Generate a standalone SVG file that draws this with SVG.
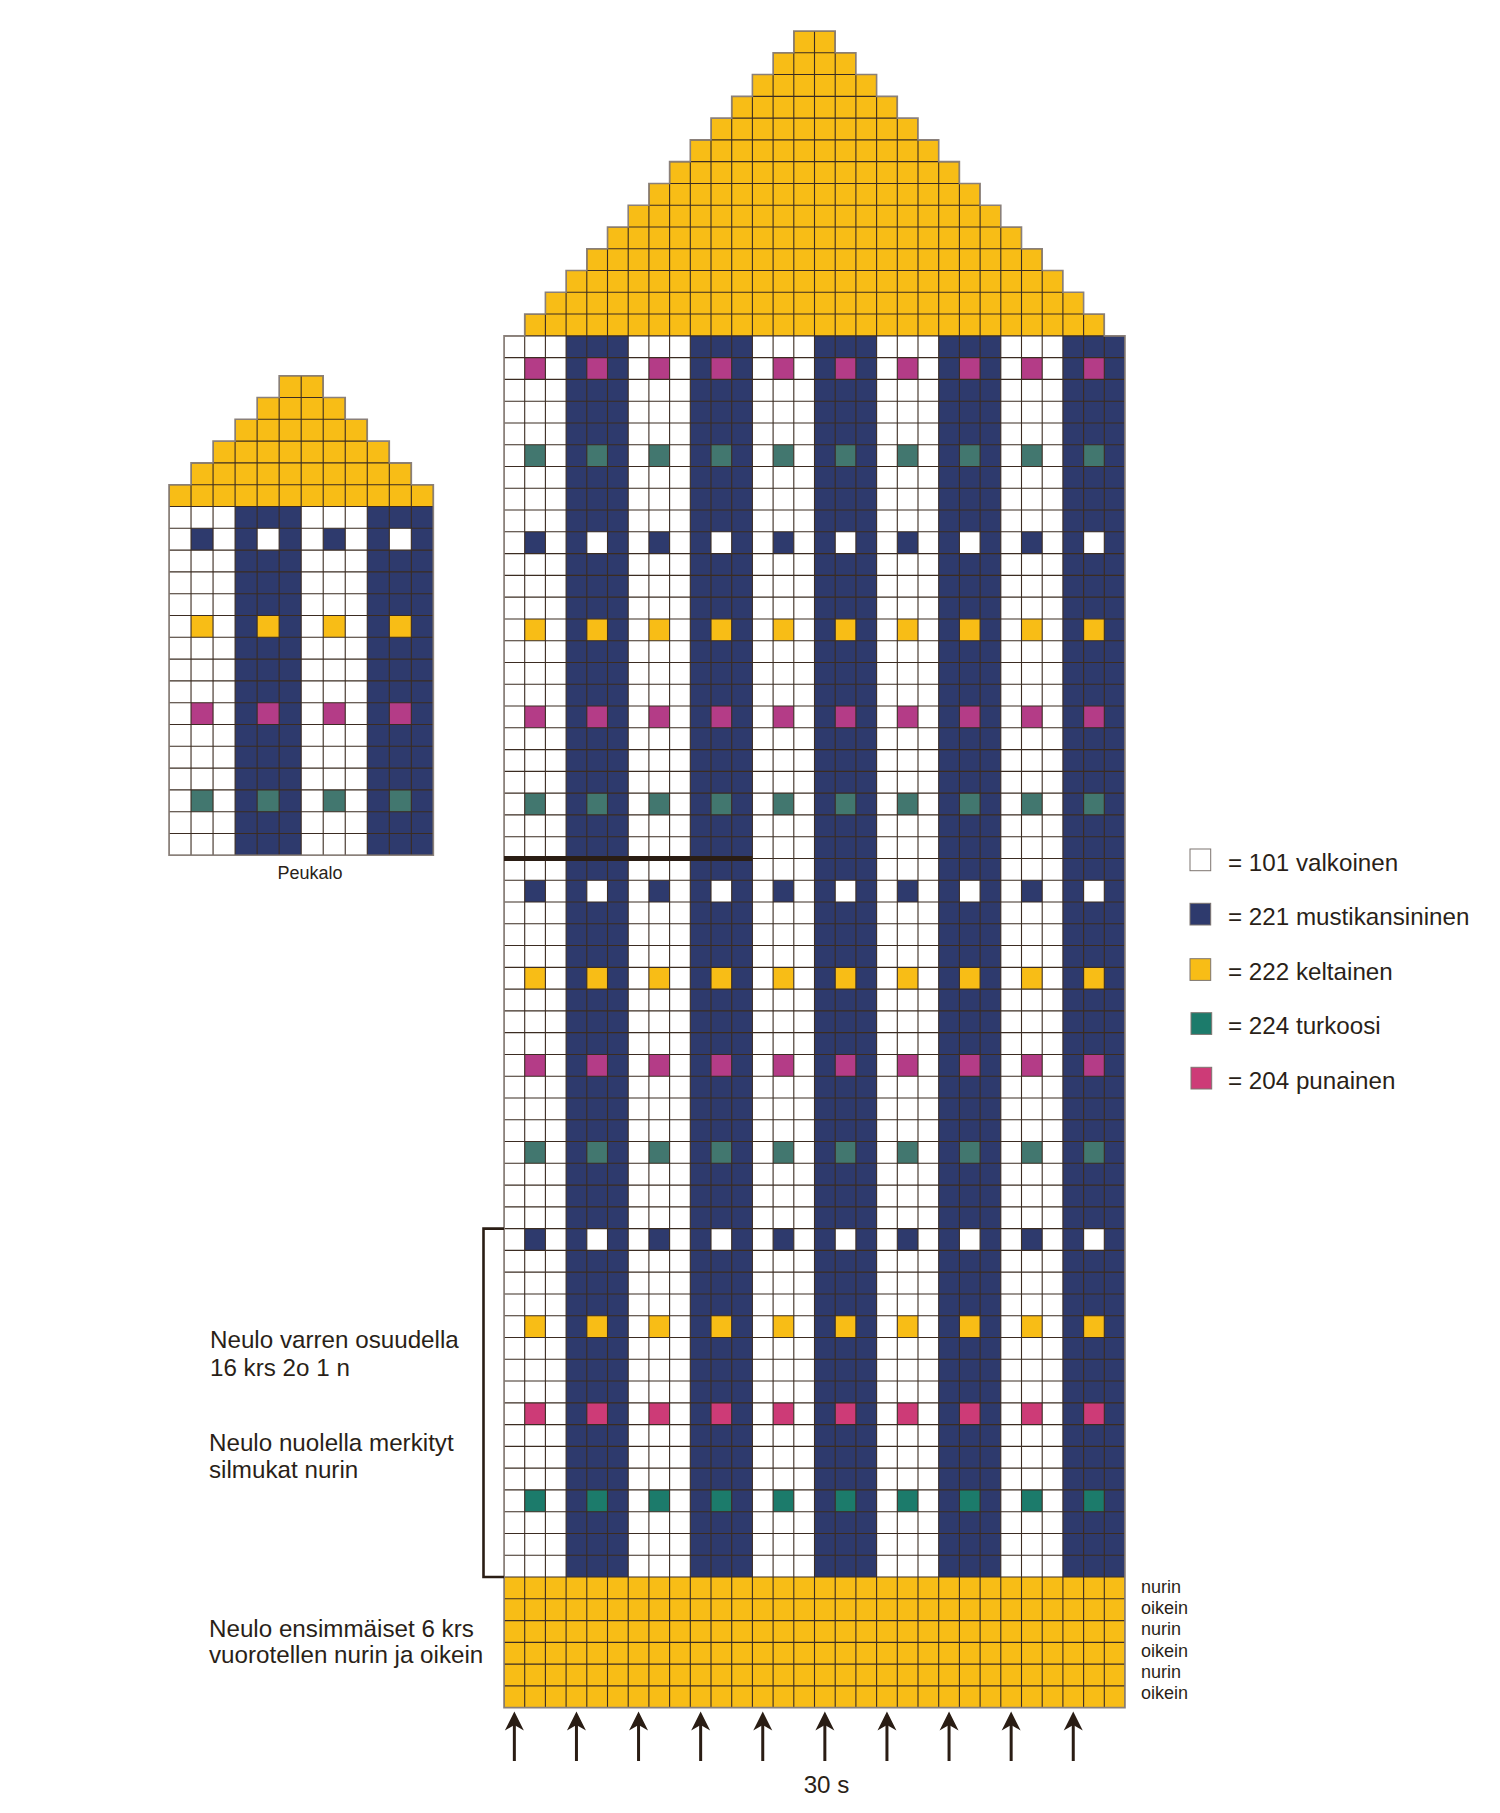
<svg xmlns="http://www.w3.org/2000/svg" xmlns:xlink="http://www.w3.org/1999/xlink" width="1500" height="1813" viewBox="0 0 1500 1813">
<style>
.w{fill:#ffffff}.b{fill:#2e3a6d}.y{fill:#f8bd16}.m{fill:#b43c87}.t{fill:#42776f}.p{fill:#cd3b77}.g{fill:#1c7b6b}
.gl{fill:none;stroke:#3b2c22;stroke-width:1.1;vector-effect:non-scaling-stroke}
.ol{fill:none;stroke:#8a807a;stroke-width:1.6;vector-effect:non-scaling-stroke}
.thick{fill:none;stroke:#2a1d14;stroke-width:5;vector-effect:non-scaling-stroke}
.txt{font-family:"Liberation Sans",Arial,sans-serif;font-size:24.2px;fill:#2a1f18}
.sm{font-family:"Liberation Sans",Arial,sans-serif;font-size:18px;fill:#2a1f18}
.lg{stroke:#7d7570;stroke-width:1}
.ar{fill:#2a1d14;stroke:none}
.as{stroke:#2a1d14;stroke-width:3;fill:none}
</style>
<defs>
<clipPath id="mainClip" clipPathUnits="userSpaceOnUse"><path d="M14 0H16V1H17V2H18V3H19V4H20V5H21V6H22V7H23V8H24V9H25V10H26V11H27V12H28V13H29V14H30V77H0V14H1V13H2V12H3V11H4V10H5V9H6V8H7V7H8V6H9V5H10V4H11V3H12V2H13V1H14Z"/></clipPath>
<clipPath id="thumbClip" clipPathUnits="userSpaceOnUse"><path d="M5 0H7V1H8V2H9V3H10V4H11V5H12V22H0V5H1V4H2V3H3V2H4V1H5Z"/></clipPath>
<g id="mk-m"><rect class="m" x="1" y="0" width="1" height="1"/><rect class="m" x="4" y="0" width="1" height="1"/><rect class="m" x="7" y="0" width="1" height="1"/><rect class="m" x="10" y="0" width="1" height="1"/><rect class="m" x="13" y="0" width="1" height="1"/><rect class="m" x="16" y="0" width="1" height="1"/><rect class="m" x="19" y="0" width="1" height="1"/><rect class="m" x="22" y="0" width="1" height="1"/><rect class="m" x="25" y="0" width="1" height="1"/><rect class="m" x="28" y="0" width="1" height="1"/></g>
<g id="mk-t"><rect class="t" x="1" y="0" width="1" height="1"/><rect class="t" x="4" y="0" width="1" height="1"/><rect class="t" x="7" y="0" width="1" height="1"/><rect class="t" x="10" y="0" width="1" height="1"/><rect class="t" x="13" y="0" width="1" height="1"/><rect class="t" x="16" y="0" width="1" height="1"/><rect class="t" x="19" y="0" width="1" height="1"/><rect class="t" x="22" y="0" width="1" height="1"/><rect class="t" x="25" y="0" width="1" height="1"/><rect class="t" x="28" y="0" width="1" height="1"/></g>
<g id="mk-y"><rect class="y" x="1" y="0" width="1" height="1"/><rect class="y" x="4" y="0" width="1" height="1"/><rect class="y" x="7" y="0" width="1" height="1"/><rect class="y" x="10" y="0" width="1" height="1"/><rect class="y" x="13" y="0" width="1" height="1"/><rect class="y" x="16" y="0" width="1" height="1"/><rect class="y" x="19" y="0" width="1" height="1"/><rect class="y" x="22" y="0" width="1" height="1"/><rect class="y" x="25" y="0" width="1" height="1"/><rect class="y" x="28" y="0" width="1" height="1"/></g>
<g id="mk-p"><rect class="p" x="1" y="0" width="1" height="1"/><rect class="p" x="4" y="0" width="1" height="1"/><rect class="p" x="7" y="0" width="1" height="1"/><rect class="p" x="10" y="0" width="1" height="1"/><rect class="p" x="13" y="0" width="1" height="1"/><rect class="p" x="16" y="0" width="1" height="1"/><rect class="p" x="19" y="0" width="1" height="1"/><rect class="p" x="22" y="0" width="1" height="1"/><rect class="p" x="25" y="0" width="1" height="1"/><rect class="p" x="28" y="0" width="1" height="1"/></g>
<g id="mk-g"><rect class="g" x="1" y="0" width="1" height="1"/><rect class="g" x="4" y="0" width="1" height="1"/><rect class="g" x="7" y="0" width="1" height="1"/><rect class="g" x="10" y="0" width="1" height="1"/><rect class="g" x="13" y="0" width="1" height="1"/><rect class="g" x="16" y="0" width="1" height="1"/><rect class="g" x="19" y="0" width="1" height="1"/><rect class="g" x="22" y="0" width="1" height="1"/><rect class="g" x="25" y="0" width="1" height="1"/><rect class="g" x="28" y="0" width="1" height="1"/></g>
<g id="mk-s"><rect class="b" x="1" y="0" width="1" height="1"/><rect class="w" x="4" y="0" width="1" height="1"/><rect class="b" x="7" y="0" width="1" height="1"/><rect class="w" x="10" y="0" width="1" height="1"/><rect class="b" x="13" y="0" width="1" height="1"/><rect class="w" x="16" y="0" width="1" height="1"/><rect class="b" x="19" y="0" width="1" height="1"/><rect class="w" x="22" y="0" width="1" height="1"/><rect class="b" x="25" y="0" width="1" height="1"/><rect class="w" x="28" y="0" width="1" height="1"/></g>
<g id="arr"><line class="as" x1="0" y1="11" x2="0" y2="49.5"/><path class="ar" d="M0 0L9.5 19L0 13.5L-9.5 19Z"/></g>
</defs>

<!-- Main chart -->
<g id="main-chart" transform="translate(504 31) scale(20.7 21.775)">
<path class="y" d="M14 0H16V1H17V2H18V3H19V4H20V5H21V6H22V7H23V8H24V9H25V10H26V11H27V12H28V13H29V14H30V77H0V14H1V13H2V12H3V11H4V10H5V9H6V8H7V7H8V6H9V5H10V4H11V3H12V2H13V1H14Z"/>
<rect class="w" x="0" y="14" width="30" height="57"/>
<rect class="b" x="3" y="14" width="3" height="57"/>
<rect class="b" x="9" y="14" width="3" height="57"/>
<rect class="b" x="15" y="14" width="3" height="57"/>
<rect class="b" x="21" y="14" width="3" height="57"/>
<rect class="b" x="27" y="14" width="3" height="57"/>
<use xlink:href="#mk-m" y="15"/>
<use xlink:href="#mk-t" y="19"/>
<use xlink:href="#mk-s" y="23"/>
<use xlink:href="#mk-y" y="27"/>
<use xlink:href="#mk-m" y="31"/>
<use xlink:href="#mk-t" y="35"/>
<use xlink:href="#mk-s" y="39"/>
<use xlink:href="#mk-y" y="43"/>
<use xlink:href="#mk-m" y="47"/>
<use xlink:href="#mk-t" y="51"/>
<use xlink:href="#mk-s" y="55"/>
<use xlink:href="#mk-y" y="59"/>
<use xlink:href="#mk-p" y="63"/>
<use xlink:href="#mk-g" y="67"/>
<g clip-path="url(#mainClip)">
<path class="gl" d="M0 0V77M1 0V77M2 0V77M3 0V77M4 0V77M5 0V77M6 0V77M7 0V77M8 0V77M9 0V77M10 0V77M11 0V77M12 0V77M13 0V77M14 0V77M15 0V77M16 0V77M17 0V77M18 0V77M19 0V77M20 0V77M21 0V77M22 0V77M23 0V77M24 0V77M25 0V77M26 0V77M27 0V77M28 0V77M29 0V77M30 0V77"/>
<path class="gl" d="M0 0H30M0 1H30M0 2H30M0 3H30M0 4H30M0 5H30M0 6H30M0 7H30M0 8H30M0 9H30M0 10H30M0 11H30M0 12H30M0 13H30M0 14H30M0 15H30M0 16H30M0 17H30M0 18H30M0 19H30M0 20H30M0 21H30M0 22H30M0 23H30M0 24H30M0 25H30M0 26H30M0 27H30M0 28H30M0 29H30M0 30H30M0 31H30M0 32H30M0 33H30M0 34H30M0 35H30M0 36H30M0 37H30M0 38H30M0 39H30M0 40H30M0 41H30M0 42H30M0 43H30M0 44H30M0 45H30M0 46H30M0 47H30M0 48H30M0 49H30M0 50H30M0 51H30M0 52H30M0 53H30M0 54H30M0 55H30M0 56H30M0 57H30M0 58H30M0 59H30M0 60H30M0 61H30M0 62H30M0 63H30M0 64H30M0 65H30M0 66H30M0 67H30M0 68H30M0 69H30M0 70H30M0 71H30M0 72H30M0 73H30M0 74H30M0 75H30M0 76H30M0 77H30"/>
</g>
<path class="ol" d="M14 0H16V1H17V2H18V3H19V4H20V5H21V6H22V7H23V8H24V9H25V10H26V11H27V12H28V13H29V14H30V77H0V14H1V13H2V12H3V11H4V10H5V9H6V8H7V7H8V6H9V5H10V4H11V3H12V2H13V1H14Z"/>
<path class="thick" d="M0 38H12"/>
</g>

<!-- Thumb chart -->
<g id="thumb-chart" transform="translate(169 375.7) scale(22.03 21.8)">
<path class="y" d="M5 0H7V1H8V2H9V3H10V4H11V5H12V22H0V5H1V4H2V3H3V2H4V1H5Z"/>
<rect class="w" x="0" y="6" width="12" height="16"/>
<rect class="b" x="3" y="6" width="3" height="16"/>
<rect class="b" x="9" y="6" width="3" height="16"/>
<rect class="b" x="1" y="7" width="1" height="1"/><rect class="w" x="4" y="7" width="1" height="1"/><rect class="b" x="7" y="7" width="1" height="1"/><rect class="w" x="10" y="7" width="1" height="1"/>
<rect class="y" x="1" y="11" width="1" height="1"/><rect class="y" x="4" y="11" width="1" height="1"/><rect class="y" x="7" y="11" width="1" height="1"/><rect class="y" x="10" y="11" width="1" height="1"/>
<rect class="m" x="1" y="15" width="1" height="1"/><rect class="m" x="4" y="15" width="1" height="1"/><rect class="m" x="7" y="15" width="1" height="1"/><rect class="m" x="10" y="15" width="1" height="1"/>
<rect class="t" x="1" y="19" width="1" height="1"/><rect class="t" x="4" y="19" width="1" height="1"/><rect class="t" x="7" y="19" width="1" height="1"/><rect class="t" x="10" y="19" width="1" height="1"/>
<g clip-path="url(#thumbClip)">
<path class="gl" d="M0 0V22M1 0V22M2 0V22M3 0V22M4 0V22M5 0V22M6 0V22M7 0V22M8 0V22M9 0V22M10 0V22M11 0V22M12 0V22"/>
<path class="gl" d="M0 0H12M0 1H12M0 2H12M0 3H12M0 4H12M0 5H12M0 6H12M0 7H12M0 8H12M0 9H12M0 10H12M0 11H12M0 12H12M0 13H12M0 14H12M0 15H12M0 16H12M0 17H12M0 18H12M0 19H12M0 20H12M0 21H12M0 22H12"/>
</g>
<path class="ol" d="M5 0H7V1H8V2H9V3H10V4H11V5H12V22H0V5H1V4H2V3H3V2H4V1H5Z"/>
</g>
<text class="sm" x="310" y="879" text-anchor="middle">Peukalo</text>

<!-- Connectors / annotations -->
<g id="connectors">
<path d="M504 1228.6H483.5V1577H504" fill="none" stroke="#2a1d14" stroke-width="2.6"/>
<use xlink:href="#arr" x="514.35" y="1711.5"/>
<use xlink:href="#arr" x="576.45" y="1711.5"/>
<use xlink:href="#arr" x="638.55" y="1711.5"/>
<use xlink:href="#arr" x="700.65" y="1711.5"/>
<use xlink:href="#arr" x="762.75" y="1711.5"/>
<use xlink:href="#arr" x="824.85" y="1711.5"/>
<use xlink:href="#arr" x="886.95" y="1711.5"/>
<use xlink:href="#arr" x="949.05" y="1711.5"/>
<use xlink:href="#arr" x="1011.15" y="1711.5"/>
<use xlink:href="#arr" x="1073.25" y="1711.5"/>
</g>

<!-- Left texts -->
<g id="notes">
<text class="txt" x="210" y="1348">Neulo varren osuudella</text>
<text class="txt" x="210" y="1375.5">16 krs 2o 1 n</text>
<text class="txt" x="209" y="1450.5">Neulo nuolella merkityt</text>
<text class="txt" x="209" y="1477.5">silmukat nurin</text>
<text class="txt" x="209" y="1636.5">Neulo ensimmäiset 6 krs</text>
<text class="txt" x="209" y="1663.3">vuorotellen nurin ja oikein</text>
</g>

<!-- Cuff labels -->
<g id="cuff-labels">
<text class="sm" x="1141" y="1592.7">nurin</text>
<text class="sm" x="1141" y="1614">oikein</text>
<text class="sm" x="1141" y="1635.2">nurin</text>
<text class="sm" x="1141" y="1656.7">oikein</text>
<text class="sm" x="1141" y="1678.2">nurin</text>
<text class="sm" x="1141" y="1699.3">oikein</text>
</g>
<text class="txt" x="826.5" y="1793" text-anchor="middle">30 s</text>

<!-- Legend -->
<g id="legend">
<rect class="w lg" x="1190" y="849" width="20.7" height="21.7"/>
<text class="txt" x="1228" y="870.7">= 101 valkoinen</text>
<rect class="b lg" x="1190" y="903.3" width="20.7" height="21.7"/>
<text class="txt" x="1228" y="925">= 221 mustikansininen</text>
<rect class="y lg" x="1190" y="958.7" width="20.7" height="21.7"/>
<text class="txt" x="1228" y="980.4">= 222 keltainen</text>
<rect class="g lg" x="1191" y="1012.7" width="20.7" height="21.7"/>
<text class="txt" x="1228" y="1034.4">= 224 turkoosi</text>
<rect class="p lg" x="1191" y="1067.3" width="20.7" height="21.7"/>
<text class="txt" x="1228" y="1089">= 204 punainen</text>
</g>
</svg>
